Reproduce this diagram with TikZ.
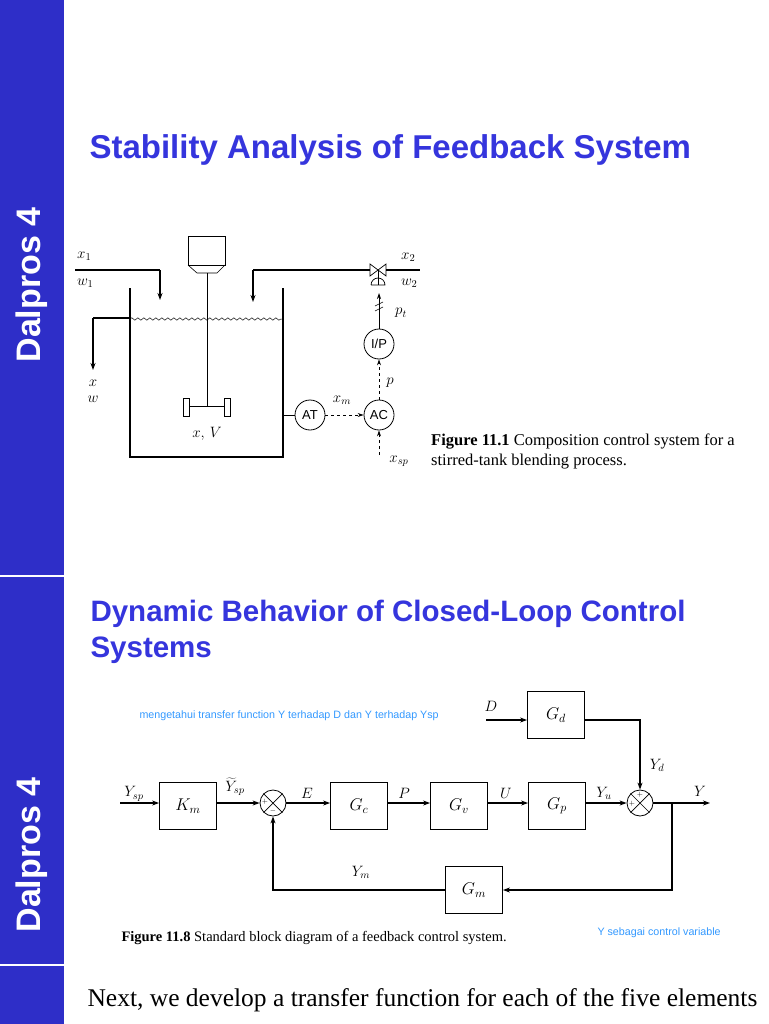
\documentclass[tikz,border=0pt]{standalone}
\usepackage{fix-cm}
\usepackage{fontspec}
\setmainfont{Liberation Serif}
\setsansfont{Liberation Sans}
\usetikzlibrary{arrows.meta,decorations.pathmorphing}
\definecolor{sidec}{HTML}{2E2EC8}
\definecolor{ttl}{HTML}{3535DD}
\definecolor{note}{HTML}{3399FF}
\tikzset{
 ln/.style={line width=1.1pt},
 arr/.style={ln,-{Stealth[length=7pt,width=5pt]}},
 blk/.style={draw,line width=0.8pt,minimum width=57pt,minimum height=47pt,inner sep=0pt,font=\fontsize{17}{20}\selectfont},
 circ/.style={draw,circle,line width=0.8pt,minimum size=30pt,inner sep=0pt,font=\sffamily\fontsize{13}{15}\selectfont},
 sumj/.style={draw,circle,line width=0.8pt,minimum size=26pt,inner sep=0pt},
 lbl/.style={inner sep=1pt,font=\fontsize{15}{17}\selectfont},
 sidetxt/.style={rotate=90,text=white,font=\sffamily\bfseries\fontsize{34}{38}\selectfont},
 title/.style={anchor=west,text=ttl,font=\sffamily\bfseries\fontsize{29.5}{36}\selectfont},
 note/.style={font=\sffamily\fontsize{10.7}{12}\selectfont,text=note,anchor=west}
}
\begin{document}
\begin{tikzpicture}[x=1pt,y=-1pt]
\useasboundingbox (0,0) rectangle (768,1024);
\fill[white] (0,0) rectangle (768,1024);
\fill[sidec] (0,0) rectangle (64,1024);
\draw[white,line width=1.5pt] (0,576) -- (64,576);
\draw[white,line width=1.5pt] (0,965) -- (64,965);
\node[sidetxt] (s1) at (32,285) {Dalpros 4};
\node[sidetxt] (s2) at (32,855) {Dalpros 4};
\node[title,font=\sffamily\bfseries\fontsize{33}{38}\selectfont] (t1) at (86,150) {Stability Analysis of Feedback System};
\node[title,align=left,anchor=north west] (t2) at (87,597) {Dynamic Behavior of Closed-Loop Control\\Systems};

% ---------- tank figure ----------
\draw[ln] (130,288) -- (130,457) -- (283,457) -- (283,288);
\draw[line width=0.5pt,decorate,decoration={snake,amplitude=1.2pt,segment length=6pt}] (130,319) -- (283,319);
\coordinate (in1a) at (75,270); \coordinate (in1b) at (160,270); \coordinate (in1c) at (160,300);
\draw[ln] (in1a) -- (in1b);
\draw[arr] (in1b) -- (in1c);
\node[lbl,anchor=west] (x1) at (76,256) {$x_1$};
\node[lbl,anchor=west] (w1) at (76,283) {$w_1$};
\coordinate (o1) at (130,318); \coordinate (o2) at (93,318); \coordinate (o3) at (93,370);
\draw[ln] (o1) -- (o2);
\draw[arr] (o2) -- (o3);
\node[lbl] (xo) at (93,383) {$x$};
\node[lbl] (wo) at (93,399) {$w$};
% motor
\draw[line width=0.6pt] (188,236) rectangle (225,265);
\draw[line width=0.6pt] (188,265) -- (197,273) -- (217,273) -- (225,265);
\draw[line width=0.6pt] (207,273) -- (207,406);
\draw[line width=0.6pt] (189,406) -- (224,406);
\draw[line width=0.6pt] (183,398) rectangle (189,416);
\draw[line width=0.6pt] (224,398) rectangle (230,416);
\node[lbl] (xv) at (207,434) {$x,\,V$};
% inlet 2 and valve
\draw[line width=0.7pt] (370,264) -- (386,276) -- (386,264) -- (370,276) -- cycle;
\coordinate (in2a) at (370,270); \coordinate (in2b) at (253,270); \coordinate (in2c) at (253,302);
\draw[ln] (in2a) -- (in2b);
\draw[arr] (in2b) -- (in2c);
\draw[ln] (386,270) -- (420,270);
\node[lbl,anchor=west] (x2) at (400,257) {$x_2$};
\node[lbl,anchor=west] (w2) at (400,283) {$w_2$};
\draw[line width=0.7pt] (378,270) -- (378,285);
\draw[line width=0.7pt] (371,285) -- (385,285) arc (0:-180:7);
% instruments
\node[circ] (AT) at (310,415) {AT};
\node[circ] (AC) at (379,415) {AC};
\node[circ] (IP) at (379,344) {I/P};
\draw[line width=0.8pt] (283,415) -- (AT.west);
\draw[line width=0.8pt,dashed,-{Stealth[length=6pt,width=4pt]}] (AT) -- (AC);
\node[lbl] (xm) at (342,400) {$x_m$};
\coordinate (sp) at (379,455);
\draw[line width=0.8pt,dashed,-{Stealth[length=6pt,width=4pt]}] (sp) -- (AC);
\node[lbl] (xsp) at (399,461) {$x_{sp}$};
\draw[line width=0.8pt,dashed,-{Stealth[length=6pt,width=4pt]}] (AC) -- (IP);
\node[lbl] (pl) at (390,383) {$p$};
\coordinate (act) at (379,293);
\draw[line width=0.8pt,-{Stealth[length=6pt,width=4pt]}] (IP) -- (act);
\draw[line width=0.6pt] (375,306) -- (383,302) (375,311) -- (383,307);
\node[lbl] (pt) at (401,313) {$p_t$};
\node[anchor=north west,align=left,inner sep=0pt,font=\fontsize{16.5}{20}\selectfont] (cap1) at (431,434) {\textbf{Figure 11.1} Composition control system for a\\stirred-tank blending process.};

% ---------- block diagram ----------
\node[note] (n1) at (136,716) {mengetahui transfer function Y terhadap D dan Y terhadap Ysp};
\node[blk] (Gd) at (556,715) {$G_d$};
\node[blk] (Km) at (188,806) {$K_m$};
\node[sumj] (S1) at (273,803) {};
\node[blk] (Gc) at (359,806) {$G_c$};
\node[blk] (Gv) at (459,806) {$G_v$};
\node[blk] (Gp) at (557,806) {$G_p$};
\node[sumj] (S2) at (640,803) {};
\node[blk] (Gm) at (474,890) {$G_m$};
\foreach \s in {S1,S2}{\draw[line width=0.7pt] (\s.45) -- (\s.225) (\s.135) -- (\s.315);}
\node[font=\scriptsize] at (265,802) {$+$};
\node[font=\scriptsize] at (273,811) {$-$};
\node[font=\scriptsize] at (640,795) {$+$};
\node[font=\scriptsize] at (632,804) {$+$};
\coordinate (D) at (486,720);
\coordinate (Ysp) at (120,803);
\coordinate (Yout) at (710,803);
\coordinate (br) at (672,803);
\draw[arr] (D) -- (Gd.west|-D);
\node[lbl] at (491,706) {$D$};
\draw[arr] (Ysp) -- (Km.west|-Ysp);
\node[lbl] at (134,794) {$Y_{sp}$};
\draw[arr] (Km.east|-S1) -- (S1);
\node[lbl] at (235,787) {$\widetilde{Y}_{sp}$};
\draw[arr] (S1) -- (Gc.west|-S1);
\node[lbl] at (307,793) {$E$};
\draw[arr] (Gc.east|-S1) -- (Gv.west|-S1);
\node[lbl] at (404,793) {$P$};
\draw[arr] (Gv.east|-S1) -- (Gp.west|-S1);
\node[lbl] at (506,793) {$U$};
\draw[arr] (Gp.east|-S1) -- (S2);
\node[lbl] at (604,793) {$Y_u$};
\draw[arr] (S2) -- (Yout);
\node[lbl] at (700,791) {$Y$};
\draw[arr] (Gd.east|-D) -| (S2.north);
\node[lbl] at (657,765) {$Y_d$};
\draw[arr] (br) |- (Gm.east);
\draw[arr] (Gm.west) -| (S1.south);
\node[lbl] at (361,872) {$Y_m$};
\node[anchor=west,font=\fontsize{14.5}{17}\selectfont] (cap2) at (118,938) {\textbf{Figure 11.8} Standard block diagram of a feedback control system.};
\node[note] (n2) at (594,933) {Y sebagai control variable};

\node[anchor=west,font=\fontsize{25.5}{30}\selectfont] (body) at (84,1000) {Next, we develop a transfer function for each of the five elements};
\end{tikzpicture}
\end{document}
